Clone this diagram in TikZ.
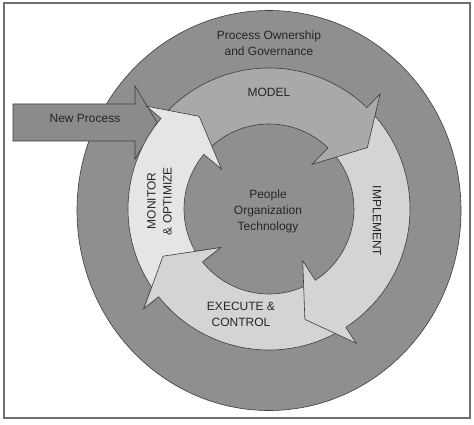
\documentclass[tikz,border=0pt]{standalone}
\usepackage{fontspec}
\setmainfont{Liberation Sans}
\usetikzlibrary{calc}
\definecolor{cRing}{HTML}{8E8F91}
\definecolor{cNew}{HTML}{8A8B8D}
\definecolor{cModel}{HTML}{A8A9AB}
\definecolor{cImpl}{HTML}{D3D4D6}
\definecolor{cExec}{HTML}{D3D4D6}
\definecolor{cMon}{HTML}{E5E5E7}
\definecolor{cEdge}{HTML}{3C3C3E}
\definecolor{cFrame}{HTML}{6E6E6E}
% ring radii (pt)
\def\rOut{141}
\def\rIn{85}
\def\rTip{116}
\def\rBarbOut{160}
\def\rBarbIn{62}
% curved stage arrow: #1 tail angle, #2 head base angle, #3 tip angle
\newcommand{\cyclearrow}[3]{%
  (#1:\rOut) arc[start angle=#1, end angle=#2, radius=\rOut]
  -- (#2:\rBarbOut) -- (#3:\rTip) -- (#2:\rBarbIn) -- (#2:\rIn)
  arc[start angle=#2, end angle=#1, radius=\rIn] -- cycle}
\tikzset{
  stage/.style={draw=cEdge, line width=0.6pt, line join=miter},
  lbl/.style={font=\fontsize{12}{16}\selectfont, align=center, text=black!85, inner sep=1pt},
}

\begin{document}
\begin{tikzpicture}[x=1pt, y=1pt]
    \useasboundingbox (0,0) rectangle (474,424);
    % --- frame and governance ring ---
    \draw[cFrame, line width=1.2pt] (4,6) rectangle (470,421);
    \draw[stage, fill=cRing] (269,213.5) ellipse[x radius=192, y radius=200];
    % --- incoming process ---
    \draw[stage, fill=cNew] (13,283) -- (135,283) -- (135,265) -- (157,301.5)
      -- (135,338) -- (135,320) -- (13,320) -- cycle;
    % --- lifecycle arrows ---
    \begin{scope}[shift={(269,215)}]
      \draw[stage, fill=cExec]  \cyclearrow{-60}{-141.5}{-156};
      \draw[stage, fill=cImpl]  \cyclearrow{43}{-57}{-72};
      \draw[stage, fill=cModel] \cyclearrow{137}{46}{32};
      \draw[stage, fill=cMon]   \cyclearrow{-144.5}{-220}{-233};
      % head of execute sits over the monitor tail
      \begin{scope}
        \clip (0,0) -- (-141:200) arc[start angle=-141, end angle=-170, radius=200] -- cycle;
        \draw[stage, fill=cExec] \cyclearrow{-60}{-141.5}{-156};
      \end{scope}
    \end{scope}
    % --- texts ---
    \node[lbl] (gov)     at (269,381) {Process Ownership\\and Governance};
    \node[lbl] (model)   at (269,332) {MODEL};
    \node[lbl, rotate=-90] (impl) at (377,203) {IMPLEMENT};
    \node[lbl] (exec)    at (241,110) {EXECUTE \&\\CONTROL};
    \node[lbl, rotate=90] (mon) at (159.5,223) {MONITOR\\\& OPTIMIZE};
    \node[lbl] (core)    at (268,213) {People\\Organization\\Technology};
    \node[lbl] (newproc) at (85,306) {New Process};
\end{tikzpicture}
\end{document}
